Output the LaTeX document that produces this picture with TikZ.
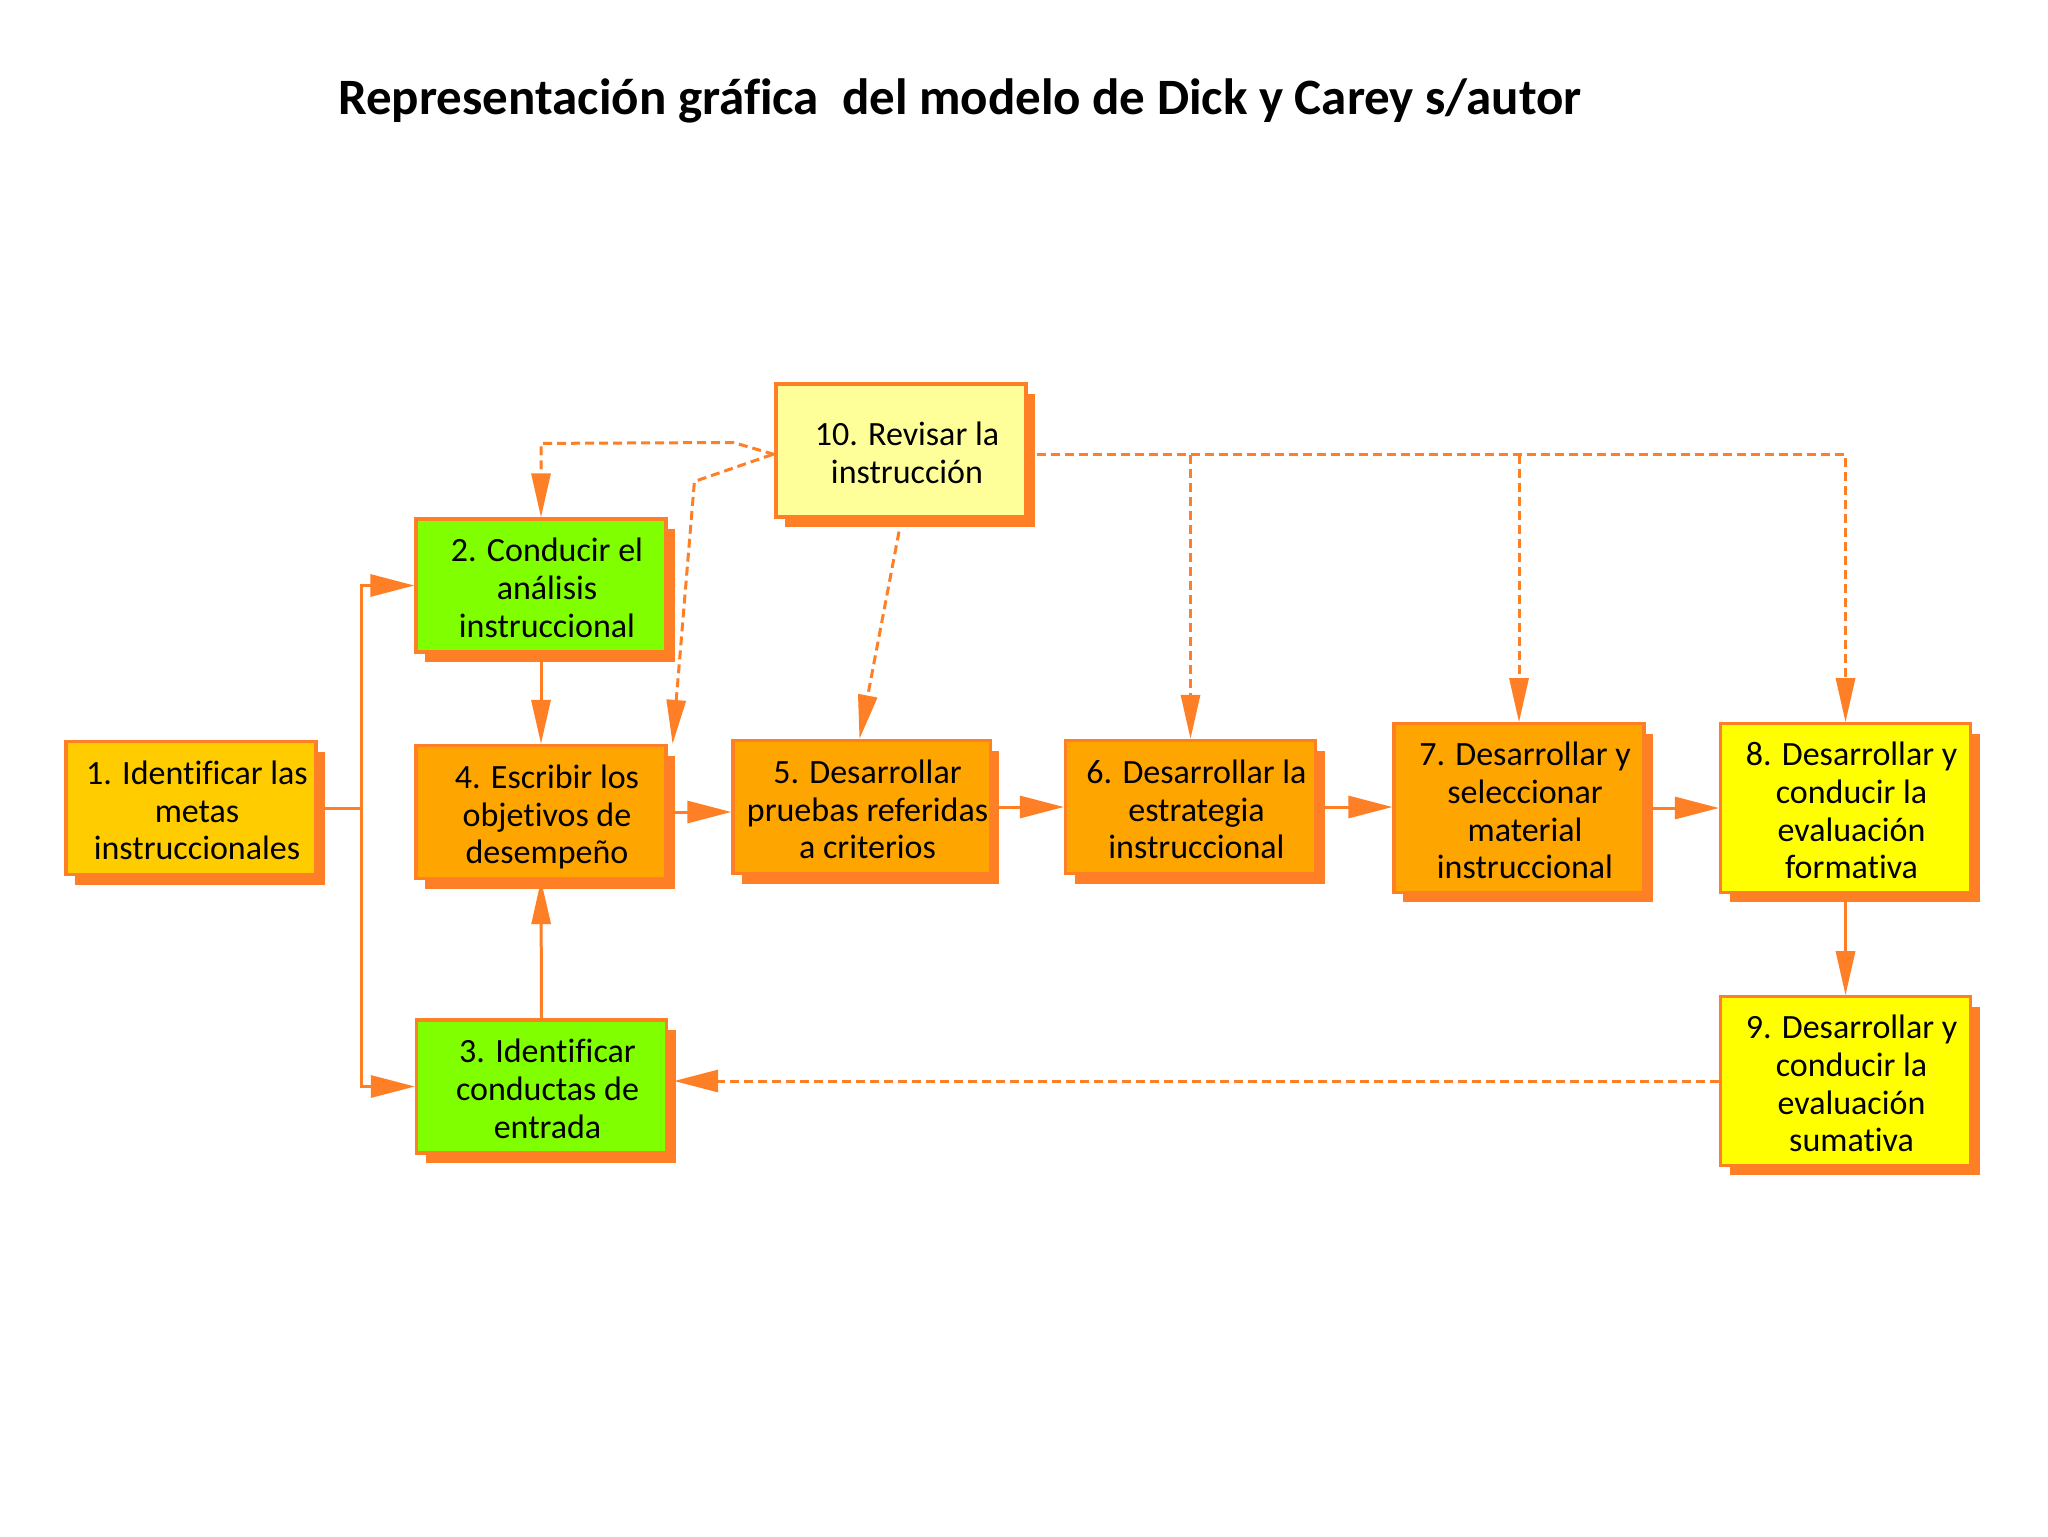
\documentclass[tikz,border=0pt]{standalone}
\usepackage{fontspec}
\setmainfont{Carlito}[Ligatures=NoCommon]
\usetikzlibrary{arrows.meta,shadows,calc}
\definecolor{ornge}{RGB}{255,127,39}
\definecolor{gold}{RGB}{255,204,0}
\definecolor{lime}{RGB}{128,255,0}
\definecolor{orfill}{RGB}{255,165,0}
\definecolor{yel}{RGB}{255,255,0}
\definecolor{ltyel}{RGB}{255,255,153}
\newcommand\bxt[1]{\hspace*{6pt}\begin{tabular}{@{}c@{}}\rule{0pt}{19.8pt}#1\end{tabular}}
\begin{document}
\begin{tikzpicture}[x=0.5pt,y=-0.5pt,
  box/.style={draw=ornge, line width=1.6pt, minimum width=125pt, minimum height=66.5pt,
    inner sep=1pt, font=\fontsize{17}{18.9}\selectfont,
    general shadow={fill=ornge, shadow xshift=4.5pt, shadow yshift=-5pt}},
  tall/.style={minimum height=83pt},
  conn/.style={draw=ornge, line width=1.5pt},
  arr/.style={conn, -{Triangle[length=22pt,width=11pt]}},
  varr/.style={conn, -{Triangle[length=22pt,width=9.5pt]}},
  dsh/.style={dash pattern=on 4.5pt off 2.5pt}
]
\useasboundingbox[fill=white] (0,0) rectangle (2048,1536);

\node[font=\bfseries\fontsize{25.5}{30}\selectfont, anchor=base] (title) at (960,114)
  {Representación gráfica~ del modelo de Dick y Carey s/autor};

\node[box, fill=gold] (n1) at (191,808) {\bxt{1. Identificar las\\metas\\ instruccionales}};
\node[box, fill=lime] (n2) at (541,585.5) {\bxt{2. Conducir el\\análisis\\ instruccional}};
\node[box, fill=lime] (n3) at (541.5,1086.5) {\bxt{3. Identificar\\conductas de\\entrada}};
\node[box, fill=orfill] (n4) at (541,812) {\bxt{4. Escribir los\\objetivos de\\desempeño}};
\node[box, fill=orfill] (n5) at (861.5,807) {\bxt{5. Desarrollar\\pruebas referidas\\a criterios}};
\node[box, fill=orfill] (n6) at (1190.5,807) {\bxt{6. Desarrollar la\\estrategia\\instruccional}};
\node[box, tall, fill=orfill] (n7) at (1519,808) {\bxt{7. Desarrollar y\\seleccionar\\material\\instruccional}};
\node[box, tall, fill=yel] (n8) at (1845.5,808) {\bxt{8. Desarrollar y\\conducir la\\evaluación\\formativa}};
\node[box, tall, fill=yel] (n9) at (1845.5,1081) {\bxt{9. Desarrollar y\\conducir la\\evaluación\\sumativa}};
\node[box, fill=ltyel] (n10) at (901,450.5) {\bxt{10. Revisar la\\instrucción}};

% solid connectors
\coordinate (j) at ($(n1.east)+(44,0)$);
\draw[conn] (n1.east) -- (j);
\draw[arr] (j) |- (n2.west);
\draw[arr] (j) |- (n3.west);
\draw[varr] (n2.south) -- (n4.north);
\draw[varr] (n3.north) -- (n4.south);
\draw[arr] (n4.east) -- (n4.east -| n5.west);
\draw[arr] (n5.east) -- (n5.east -| n6.west);
\draw[arr] (n6.east) -- (n6.east -| n7.west);
\draw[arr] (n7.east) -- (n7.east -| n8.west);
\draw[varr] (n8.south) -- (n9.north);

% dashed connectors
\draw[arr,dsh] (n9.west) -- ($(n9.west -| n3.east)+(6,0)$);
\coordinate (r) at ($(n10.east)+(9,4)$);
\draw[varr,dsh] (r) -- (r -| n8.north) -- (n8.north);
\draw[varr,dsh] (r -| n6.north) -- (n6.north);
\draw[varr,dsh] (r -| n7.north) -- (n7.north);
\draw[varr,dsh] ($(n10.west)+(0,4)$) -- ++(-41,-12) -- ($(n2.north)+(0,-74)$) -- (n2.north);
\draw[varr,dsh] ($(n10.west)+(-2,4)$) -- ++(-78,27) -- ($(n4.north east)+(5,0)$);
\draw[varr,dsh] ($(n10.south)+(-2,13)$) -- ($(n5.north)+(-2,0)$);
\end{tikzpicture}
\end{document}
